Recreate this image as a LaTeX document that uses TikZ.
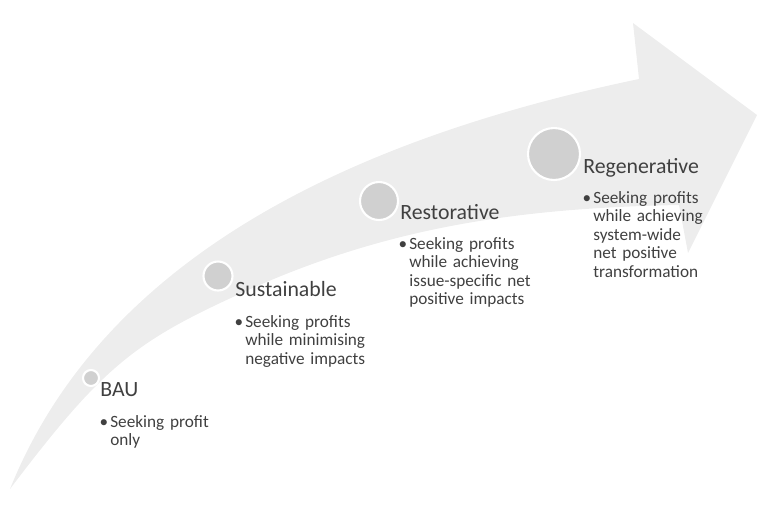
\documentclass[tikz,border=0pt]{standalone}
\usepackage{fontspec}
\setmainfont{Carlito}
\definecolor{arrowgray}{RGB}{237,237,237}
\definecolor{dotgray}{RGB}{208,208,208}
\definecolor{txtgray}{RGB}{64,64,64}
\begin{document}
\begin{tikzpicture}[x=0.02cm,y=-0.02cm,
  dot/.style={circle,fill=dotgray,draw=white,line width=1.2pt,inner sep=0pt,minimum size=#1},
  ttl/.style={anchor=base west,inner sep=0pt,text=txtgray,font={\fontsize{12.4}{14}\selectfont}},
  body/.style={anchor=base west,inner sep=0pt,text=txtgray,align=left,text width=3cm,font={\fontsize{9.8}{10.6}\selectfont}}]
\useasboundingbox (0,0) rectangle (768,512);
% curved arrow
\fill[arrowgray] (10,489) .. controls (102,260) and (346,140) .. (639,79)
  -- (633,23) -- (757,115) -- (688,253) -- (679,205)
  .. controls (515,208) and (380,228) .. (233,297)
  .. controls (133,343) and (100,370) .. (10,489) -- cycle;
% circles
\node[dot=0.32cm] (c1) at (91,378) {};
\node[dot=0.58cm] (c2) at (218,276) {};
\node[dot=0.76cm] (c3) at (379,201) {};
\node[dot=1.04cm] (c4) at (554,154) {};
% titles
\node[ttl] (t1) at (100,396) {BAU};
\node[ttl] (t2) at (235,296) {Sustainable};
\node[ttl] (t3) at (400,219) {Restorative};
\node[ttl] (t4) at (583,173) {Regenerative};
% bullets
\newcommand\bul{\llap{\textbullet\hspace{1.2pt}}}
\node[body] (b1) at (110,427) {\bul Seeking profit\\only};
\node[body] (b2) at (245,327) {\bul Seeking profits\\while minimising\\negative impacts};
\node[body] (b3) at (409,249) {\bul Seeking profits\\while achieving\\issue-specific net\\positive impacts};
\node[body] (b4) at (593,203) {\bul Seeking profits\\while achieving\\system-wide\\net positive\\transformation};
\end{tikzpicture}
\end{document}
